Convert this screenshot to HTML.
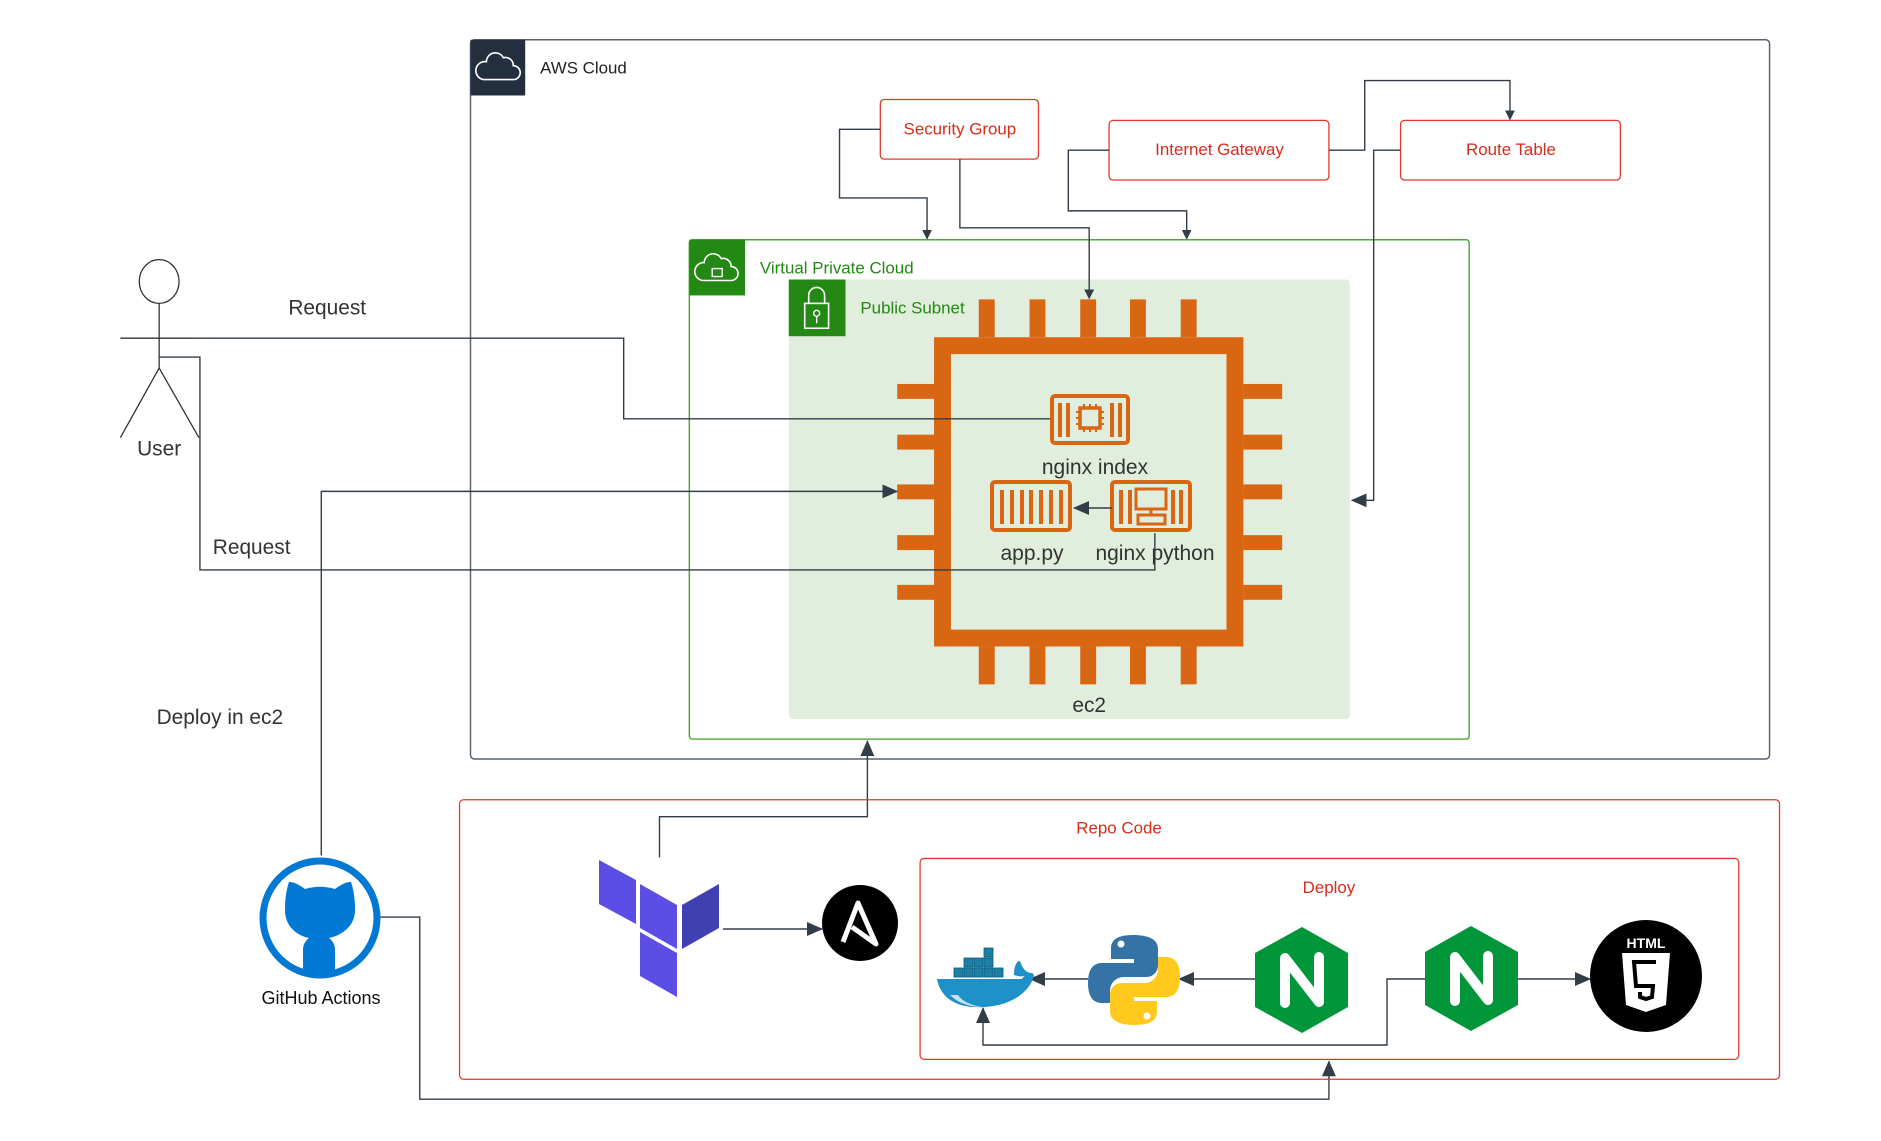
<!DOCTYPE html>
<html><head><meta charset="utf-8"><style>
html,body{margin:0;padding:0;background:#fff;}
svg{display:block;font-family:"Liberation Sans",sans-serif;}
</style></head><body>
<svg width="1881" height="1141" viewBox="0 0 1881 1141" xmlns="http://www.w3.org/2000/svg">
<defs>
<marker id="a" markerWidth="10" markerHeight="10" refX="9" refY="5" orient="auto" markerUnits="userSpaceOnUse"><path d="M0,0 L10,5 L0,10 z" fill="#333d47"/></marker>
<marker id="b" markerWidth="16" markerHeight="14" refX="15" refY="7" orient="auto" markerUnits="userSpaceOnUse"><path d="M0,0 L16,7 L0,14 z" fill="#333d47"/></marker>
</defs>
<g transform="scale(0.9947)">
<rect x="473" y="40" width="1306" height="723" rx="4" fill="none" stroke="#5a6270" stroke-width="1.5"/>
<rect x="473" y="40" width="55" height="56" fill="#232f3e"/>
<path d="M486,80 h30 a7,7 0 0 0 0-14 a8,8 0 0 0-10-8 a9,9 0 0 0-17,4 a8,8 0 0 0-3,18z" fill="none" stroke="#fff" stroke-width="1.6"/>
<text x="543" y="74" font-size="17" fill="#222">AWS Cloud</text>
<g fill="#fff" stroke="#e0392b" stroke-width="1.3">
<rect x="885" y="100" width="159" height="60" rx="4"/>
<rect x="1115" y="121" width="221" height="60" rx="4"/>
<rect x="1408" y="121" width="221" height="60" rx="4"/>
</g>
<g font-size="17" fill="#d92b1c" text-anchor="middle">
<text x="965" y="135">Security Group</text>
<text x="1226" y="156">Internet Gateway</text>
<text x="1519" y="156">Route Table</text>
</g>
<rect x="693" y="241" width="784" height="502" rx="3" fill="none" stroke="#4ea83c" stroke-width="1.5"/>
<rect x="693" y="241" width="56" height="56" fill="#248814"/>
<path d="M707,282 h28 a7,7 0 0 0 0-14 a8,8 0 0 0-10-8 a9,9 0 0 0-17,4 a8,8 0 0 0-1,18z" fill="none" stroke="#fff" stroke-width="1.6"/>
<rect x="716" y="270" width="10" height="8" fill="none" stroke="#fff" stroke-width="1.4"/>
<text x="764" y="275" font-size="17" fill="#248814">Virtual Private Cloud</text>
<rect x="793" y="281" width="564" height="442" rx="4" fill="#e1eedd"/>
<rect x="793" y="281" width="57" height="57" fill="#248814"/>
<rect x="809" y="305" width="24" height="25" fill="none" stroke="#fff" stroke-width="1.6"/>
<path d="M813,305 v-8 a8,8 0 0 1 16,0 v8" fill="none" stroke="#fff" stroke-width="1.6"/>
<circle cx="821" cy="315" r="3" fill="none" stroke="#fff" stroke-width="1.4"/><line x1="821" y1="318" x2="821" y2="325" stroke="#fff" stroke-width="1.4"/>
<text x="865" y="315" font-size="17" fill="#248814">Public Subnet</text>
<g fill="#d86613">
<path d="M939,339 h311 v311 h-311z M956,356 v277 h277 v-277z" fill-rule="evenodd"/>
<rect x="984" y="301" width="16" height="38"/><rect x="1035" y="301" width="16" height="38"/><rect x="1086" y="301" width="16" height="38"/><rect x="1136" y="301" width="16" height="38"/><rect x="1187" y="301" width="16" height="38"/>
<rect x="984" y="650" width="16" height="38"/><rect x="1035" y="650" width="16" height="38"/><rect x="1086" y="650" width="16" height="38"/><rect x="1136" y="650" width="16" height="38"/><rect x="1187" y="650" width="16" height="38"/>
<rect x="902" y="386" width="37" height="15"/><rect x="902" y="437" width="37" height="15"/><rect x="902" y="487" width="37" height="15"/><rect x="902" y="538" width="37" height="15"/><rect x="902" y="588" width="37" height="15"/>
<rect x="1250" y="386" width="39" height="15"/><rect x="1250" y="437" width="39" height="15"/><rect x="1250" y="487" width="39" height="15"/><rect x="1250" y="538" width="39" height="15"/><rect x="1250" y="588" width="39" height="15"/>
</g>
<text x="1095" y="716" font-size="21" fill="#333" text-anchor="middle">ec2</text>
<g fill="none" stroke="#333" stroke-width="1.3">
<ellipse cx="160" cy="283" rx="20" ry="22"/>
<path d="M160,305 V370 M121,340 H200 M160,370 L121,440 M160,370 L200,440"/>
</g>
<g font-size="21" fill="#333" text-anchor="middle">
<text x="160" y="458">User</text>
<text x="329" y="316">Request</text>
<text x="253" y="557">Request</text>
<text x="221" y="728">Deploy in ec2</text>
</g>
<g fill="none" stroke="#333d47" stroke-width="1.4">
<path d="M200,340 H627 V421 H1058"/>
<path d="M160,359 H201 V573 H1161 V536"/>
<path d="M323,860 V494 H902" marker-end="url(#b)"/>
<path d="M885,130 H844 V199 H932 V240" marker-end="url(#a)"/>
<path d="M965,160 V229 H1095 V300" marker-end="url(#a)"/>
<path d="M1115,151 H1074 V212 H1193 V240" marker-end="url(#a)"/>
<path d="M1336,151 H1372 V81 H1518 V120" marker-end="url(#a)"/>
<path d="M1408,151 H1381 V503 H1359" marker-end="url(#b)"/>
<path d="M663,862 V821 H872 V745" marker-end="url(#b)"/>
<path d="M381,922 H422 V1105 H1336 V1067" marker-end="url(#b)"/>
</g>
<rect x="462" y="804" width="1327" height="281" rx="4" fill="none" stroke="#e0392b" stroke-width="1.3"/>
<rect x="925" y="863" width="823" height="202" rx="4" fill="none" stroke="#e0392b" stroke-width="1.3"/>
<text x="1125" y="838" font-size="17" fill="#d92b1c" text-anchor="middle">Repo Code</text>
<text x="1336" y="898" font-size="17" fill="#d92b1c" text-anchor="middle">Deploy</text>
</g>
<!-- unscaled icons -->
<g fill="none" stroke="#d86613" stroke-width="4">
<rect x="1052" y="396" width="76" height="47" rx="3"/>
<path d="M1060,403v34 M1068,403v34 M1112,403v34 M1120,403v34"/>
<rect x="1080" y="408" width="20" height="20" stroke-width="3.5"/>
<path d="M1084,404v4 M1090,404v4 M1096,404v4 M1084,428v4 M1090,428v4 M1096,428v4 M1076,412h4 M1076,418h4 M1076,424h4 M1100,412h4 M1100,418h4 M1100,424h4" stroke-width="2"/>
<rect x="992" y="482" width="78" height="48" rx="3"/>
<path d="M1002,490v34 M1012,490v34 M1022,490v34 M1031,490v34 M1041,490v34 M1051,490v34 M1061,490v34"/>
<rect x="1112" y="482" width="78" height="48" rx="3"/>
<path d="M1121,490v34 M1130,490v34 M1173,490v34 M1181,490v34"/>
<rect x="1136" y="489" width="30" height="20" stroke-width="3"/>
<path d="M1151,509v6" stroke-width="3"/>
<rect x="1138" y="515" width="27" height="9" stroke-width="3"/>
</g>
<g font-size="21" fill="#333" text-anchor="middle">
<text x="1095" y="474">nginx index</text>
<text x="1032" y="560">app.py</text>
<text x="1155" y="560">nginx python</text>
</g>
<g fill="none" stroke="#333d47" stroke-width="1.4">
<path d="M1112,508 H1074" marker-end="url(#b)"/>
<path d="M723,929 H822" marker-end="url(#b)"/>
<path d="M1255,979 H1179" marker-end="url(#b)"/>
<path d="M1088,979 H1030" marker-end="url(#b)"/>
<path d="M1425,979 H1387 V1045 H983 V1008" marker-end="url(#b)"/>
<path d="M1518,979 H1590" marker-end="url(#b)"/>
</g>
<circle cx="320" cy="918" r="57" fill="#fff" stroke="#0078d4" stroke-width="7"/>
<path d="M285,910 c0,-14 2,-22 4,-28 c6,0 12,4 16,7 c10,-3 20,-3 30,0 c4,-3 10,-7 16,-7 c2,6 4,14 4,28 c0,18 -16,26 -26,28 c4,3 6,7 6,12 v22 h-32 v-22 c0,-5 2,-9 6,-12 c-10,-2 -24,-10 -24,-28z" fill="#0078d4"/>
<text x="321" y="1004" font-size="18" fill="#111" text-anchor="middle">GitHub Actions</text>
<g fill="#5c4ee5">
<path d="M599,860 L636,880 L636,924 L599,904z"/>
<path d="M640,884 L677,905 L677,949 L640,928z"/>
<path d="M640,932 L677,953 L677,997 L640,976z"/>
<path d="M682,905 L719,884 L719,928 L682,949z" fill="#4040b2"/>
</g>
<circle cx="860" cy="923" r="38" fill="#000"/>
<path d="M843,942 L858,903 L876,944 L852,927" fill="none" stroke="#fff" stroke-width="5" stroke-linejoin="round"/>
<g>
<path d="M937,979 H1022 c4,-6 10,-8 12,-4 c-4,20 -30,34 -60,32 c-22,-1 -34,-12 -37,-28z" fill="#1d91c8"/>
<path d="M950,995 c10,10 24,12 32,12 c-12,-2 -20,-6 -24,-12z" fill="#c8e2ee"/>
<g fill="#1d7fa6" stroke="#0d5a78" stroke-width="0.8">
<rect x="954" y="968" width="9" height="9"/><rect x="964" y="968" width="9" height="9"/><rect x="974" y="968" width="9" height="9"/><rect x="984" y="968" width="9" height="9"/><rect x="994" y="968" width="9" height="9"/>
<rect x="964" y="958" width="9" height="9"/><rect x="974" y="958" width="9" height="9"/><rect x="984" y="958" width="9" height="9"/>
<rect x="984" y="948" width="9" height="9"/>
</g>
<path d="M1014,975 c0,-8 2,-14 6,-14 c2,6 4,10 10,12 c-4,4 -10,4 -16,2z" fill="#1d91c8"/>
</g>
<path d="M1133,935 c-20,0 -22,8 -22,14 v10 h23 v4 h-32 c-10,0 -14,8 -14,20 c0,12 4,20 14,20 h8 v-12 c0,-8 6,-14 14,-14 h22 c8,0 12,-6 12,-12 v-16 c0,-10 -10,-14 -25,-14z" fill="#3572a5"/>
<circle cx="1121" cy="944" r="3.5" fill="#fff"/>
<path d="M1135,1025 c20,0 22,-8 22,-14 v-10 h-23 v-4 h32 c10,0 14,-8 14,-20 c0,-12 -4,-20 -14,-20 h-8 v12 c0,8 -6,14 -14,14 h-22 c-8,0 -12,6 -12,12 v16 c0,10 10,14 25,14z" fill="#ffca1d"/>
<circle cx="1147" cy="1016" r="3.5" fill="#fff"/>
<polygon points="1302,927 1348,953 1348,1007 1302,1033 1255,1007 1255,953" fill="#009639"/>
<path d="M1285,1003 V958 L1319,1002 V957" fill="none" stroke="#fff" stroke-width="10" stroke-linecap="round" stroke-linejoin="round"/>
<polygon points="1471,926 1518,952 1518,1005 1471,1031 1425,1005 1425,952" fill="#009639"/>
<path d="M1455,1001 V957 L1488,1000 V956" fill="none" stroke="#fff" stroke-width="10" stroke-linecap="round" stroke-linejoin="round"/>
<circle cx="1646" cy="976" r="56" fill="#000"/>
<text x="1646" y="948" font-size="14" font-weight="bold" fill="#fff" text-anchor="middle">HTML</text>
<path d="M1622,953 H1670 L1666,1005 L1646,1012 L1626,1005z" fill="#fff"/>
<path d="M1656,962 H1634 L1636,986 H1653 L1652,997 L1646,999 L1640,997 L1640,992" fill="none" stroke="#000" stroke-width="4"/>
</svg>
</body></html>
